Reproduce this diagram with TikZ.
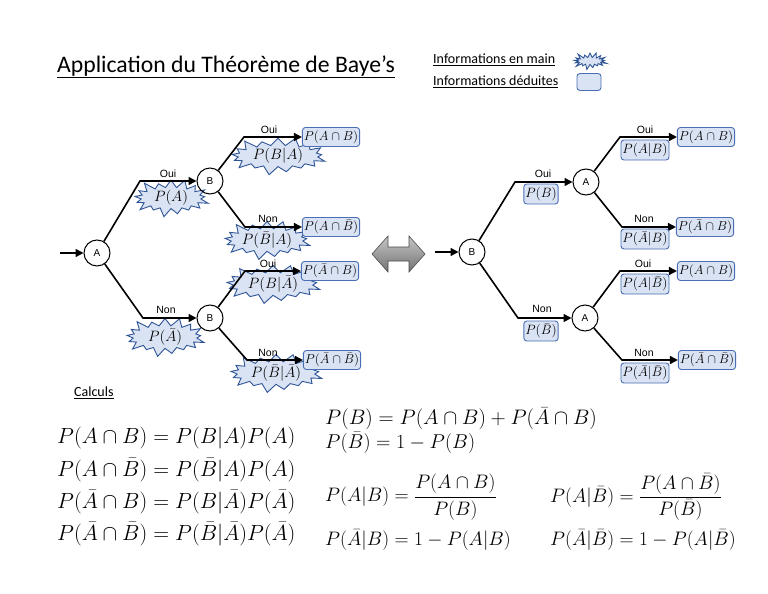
\RequirePackage{fix-cm}
\documentclass[tikz,border=0pt]{standalone}
\usepackage{fontspec}
\newfontfamily\calfont{Carlito}
\newfontfamily\arialfont{Liberation Sans}
\usetikzlibrary{shapes.symbols,arrows.meta}
\definecolor{lblue}{HTML}{DAE3F3}
\definecolor{bdraw}{HTML}{2F5597}
\definecolor{rdraw}{HTML}{4A6FB5}
\tikzset{
 circ/.style={circle,draw,line width=1pt,minimum size=26pt,inner sep=0pt,font=\arialfont\fontsize{10}{10}\selectfont},
 branch/.style={line width=1.6pt,-{Triangle[length=8pt,width=8pt]}},
 lbl/.style={font=\arialfont\fontsize{10.5}{11}\selectfont,inner sep=0pt},
 leaf/.style={draw=rdraw,fill=lblue,rounded corners=3pt,line width=0.9pt,inner sep=1.5pt,minimum height=19pt,font=\fontsize{13}{13}\selectfont},
 cond/.style={leaf,font=\fontsize{13.5}{14}\selectfont,minimum height=20pt},
 burst/.style={starburst,starburst points=17,starburst point height=10pt,draw=bdraw,fill=lblue,line width=0.9pt,inner sep=0pt,font=\fontsize{15}{15}\selectfont},
 formL/.style={anchor=west,inner sep=0pt,font=\fontsize{21.9}{24}\selectfont},
 formM/.style={anchor=west,inner sep=0pt,font=\fontsize{19.5}{22}\selectfont},
 heading/.style={anchor=west,inner sep=0pt,font=\calfont\fontsize{14}{16}\selectfont},
}
\begin{document}
\begin{tikzpicture}[x=1pt,y=-1pt]
\path[use as bounding box,fill=white] (0,0) rectangle (768,594);
% title and legend
\node[heading,font=\calfont\fontsize{23.7}{26}\selectfont] (title) at (57,67) {\underline{Application du Théorème de Baye’s}};
\node[heading] (leg1) at (433,60) {\underline{Informations en main}};
\node[heading] (leg2) at (433,82) {\underline{Informations déduites}};
\node[burst,minimum width=36pt,minimum height=19pt,starburst point height=6pt] (legb) at (590,61) {};
\node[leaf,minimum width=24pt,minimum height=17pt] (legr) at (589,82) {};
% left tree bursts
\node[burst,minimum width=80pt,minimum height=28pt] (pA) at (171,198) {$P(A)$};
\node[burst,minimum width=100pt,minimum height=30pt] (pBA) at (278,156) {$P(B|A)$};
\node[burst,minimum width=92pt,minimum height=29pt] (pnBA) at (267,240) {$P(\bar B|A)$};
\node[burst,minimum width=84pt,minimum height=31pt] (pnA) at (165,337) {$P(\bar A)$};
\node[burst,minimum width=100pt,minimum height=30pt] (pBnA) at (273,284) {$P(B|\bar A)$};
\node[burst,minimum width=98pt,minimum height=30pt] (pnBnA) at (276,373) {$P(\bar B|\bar A)$};
% left tree nodes
\node[circ] (A1) at (97,253) {A};
\node[circ] (B1) at (210,181) {B};
\node[circ] (B2) at (210,318) {B};
\coordinate (in1) at (60,253);
\coordinate (c1) at (140,181);
\coordinate (c2) at (143,318);
\coordinate (c3) at (244,137);
\coordinate (c4) at (245,227);
\coordinate (c5) at (245,271);
\coordinate (c6) at (247,360);
\node[leaf] (L1) at (331,137) {$P(A\cap B)$};
\node[leaf] (L2) at (331,227) {$P(A\cap \bar B)$};
\node[leaf] (L3) at (330,271) {$P(\bar A\cap B)$};
\node[leaf] (L4) at (332,360) {$P(\bar A\cap \bar B)$};
\draw[branch] (in1) -- (A1);
\draw[branch] (A1) -- (c1) -- (B1);
\draw[branch] (A1) -- (c2) -- (B2);
\draw[branch] (B1) -- (c3) -- (L1);
\draw[branch] (B1) -- (c4) -- (L2);
\draw[branch] (B2) -- (c5) -- (L3);
\draw[branch] (B2) -- (c6) -- (L4);
\node[lbl] (o1) at (168,174) {Oui};
\node[lbl] (o2) at (269,130) {Oui};
\node[lbl] (n1) at (268,219) {Non};
\node[lbl] (n2) at (166,310) {Non};
\node[lbl] (o3) at (268,264) {Oui};
\node[lbl] (n3) at (268,353) {Non};
% double arrow
\path[draw=gray!60!black,line width=0.6pt,top color=gray!45,bottom color=gray!90!black]
 (372,254) -- (388,236) -- (388,247) -- (409,247) -- (409,236) -- (425,254)
 -- (409,272) -- (409,261) -- (388,261) -- (388,272) -- cycle;
% right tree
\node[circ] (B3) at (472,252) {B};
\node[circ] (A3) at (586,182) {A};
\node[circ] (A4) at (585,318) {A};
\coordinate (in2) at (435,252);
\coordinate (c7) at (515,182);
\coordinate (c8) at (518,318);
\coordinate (c9) at (620,137);
\coordinate (c10) at (622,227);
\coordinate (c11) at (620,271);
\coordinate (c12) at (622,360);
\node[leaf] (R1) at (706,137) {$P(A\cap B)$};
\node[leaf] (R2) at (705,227) {$P(\bar A\cap B)$};
\node[leaf] (R3) at (706,271) {$P(A\cap B)$};
\node[leaf] (R4) at (707,360) {$P(\bar A\cap \bar B)$};
\draw[branch] (in2) -- (B3);
\draw[branch] (B3) -- (c7) -- (A3);
\draw[branch] (B3) -- (c8) -- (A4);
\draw[branch] (A3) -- (c9) -- (R1);
\draw[branch] (A3) -- (c10) -- (R2);
\draw[branch] (A4) -- (c11) -- (R3);
\draw[branch] (A4) -- (c12) -- (R4);
\node[lbl] (o4) at (543,174) {Oui};
\node[lbl] (n4) at (542,309) {Non};
\node[lbl] (o5) at (645,130) {Oui};
\node[lbl] (n5) at (644,219) {Non};
\node[lbl] (o6) at (643,264) {Oui};
\node[lbl] (n6) at (644,353) {Non};
\node[cond] (kB) at (541,194) {$P(B)$};
\node[cond] (knB) at (541,331) {$P(\bar B)$};
\node[cond] (kAB) at (645,150) {$P(A|B)$};
\node[cond] (knAB) at (645,239) {$P(\bar A|B)$};
\node[cond] (kAnB) at (645,284) {$P(A|\bar B)$};
\node[cond] (knAnB) at (645,373) {$P(\bar A|\bar B)$};
% calculations
\node[heading] (calc) at (74,393) {\underline{Calculs}};
\node[formL] (f1) at (57,438) {$P(A\cap B)=P(B|A)P(A)$};
\node[formL] (f2) at (57,470) {$P(A\cap\bar B)=P(\bar B|A)P(A)$};
\node[formL] (f3) at (57,502) {$P(\bar A\cap B)=P(B|\bar A)P(\bar A)$};
\node[formL] (f4) at (57,534) {$P(\bar A\cap\bar B)=P(\bar B|\bar A)P(\bar A)$};
\node[formM,font=\fontsize{21}{22}\selectfont] (g1) at (325,419) {$P(B)=P(A\cap B)+P(\bar A\cap B)$};
\node[formM,font=\fontsize{20}{22}\selectfont] (g2) at (325,443) {$P(\bar B)=1-P(B)$};
\node[formM] (g3) at (325,497) {$\displaystyle P(A|B)=\frac{P(A\cap B)}{P(B)}$};
\node[formM] (g4) at (325,540) {$P(\bar A|B)=1-P(A|B)$};
\node[formM] (g5) at (550,497) {$\displaystyle P(A|\bar B)=\frac{P(A\cap\bar B)}{P(\bar B)}$};
\node[formM] (g6) at (550,540) {$P(\bar A|\bar B)=1-P(A|\bar B)$};
\end{tikzpicture}
\end{document}
